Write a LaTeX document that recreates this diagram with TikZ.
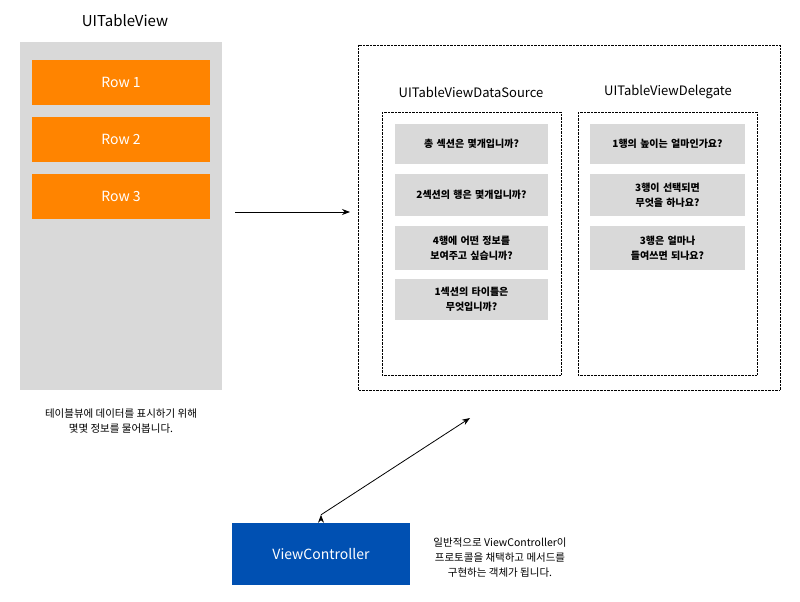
\documentclass[tikz,border=0pt]{standalone}
\usepackage{fontspec}
\setmainfont{Noto Sans CJK KR}
\usetikzlibrary{arrows.meta}
\begin{document}
\begin{tikzpicture}[x=1pt,y=-1pt,
  rowbox/.style={fill=orange!85!yellow!90!red,draw=none,minimum width=178pt,minimum height=45pt,text=white,font=\fontsize{14}{16}\selectfont},
  item/.style={fill=gray!30,draw=none,text width=150pt,align=center,font=\fontsize{10}{15}\selectfont\bfseries,inner sep=0pt},
  dotbox/.style={draw=black,densely dotted,thin},
  arr/.style={-{Stealth[length=8pt,width=6pt]},thick},
  lbl/.style={font=\fontsize{10.5}{15}\selectfont,align=center}]
\useasboundingbox (0,0) rectangle (800,602);
\fill[white] (0,0) rectangle (800,602);
\node[font=\fontsize{15}{18}\selectfont] (tvt) at (125,21) {UITableView};
\fill[gray!30] (20,42) rectangle (222,390);
\node[rowbox] (r1) at (121,82.5) {Row 1};
\node[rowbox] (r2) at (121,139.5) {Row 2};
\node[rowbox] (r3) at (121,196) {Row 3};
\node[lbl] (tvl) at (121,421) {테이블뷰에 데이터를 표시하기 위해\\몇몇 정보를 물어봅니다.};
\draw[dotbox] (358,45) rectangle (780,390);
\coordinate (a1) at (235,212);
\coordinate (a2) at (350,212);
\draw[arr] (a1) -- (a2);
\node[font=\fontsize{13}{16}\selectfont] (dst) at (471,92) {UITableViewDataSource};
\node[font=\fontsize{13}{16}\selectfont] (dlt) at (668,92) {UITableViewDelegate};
\draw[dotbox] (382,112) rectangle (561,375);
\draw[dotbox] (578,112) rectangle (757,375);
\node[item,minimum height=40pt,text width=153pt] (d1) at (471.5,144) {총 섹션은 몇개입니까?};
\node[item,minimum height=42pt,text width=153pt] (d2) at (471.5,195) {2섹션의 행은 몇개입니까?};
\node[item,minimum height=44pt,text width=153pt] (d3) at (471.5,248) {4행에 어떤 정보를\\보여주고 싶습니까?};
\node[item,minimum height=41pt,text width=153pt] (d4) at (471.5,299.5) {1섹션의 타이틀은\\무엇입니까?};
\node[item,minimum height=40pt,text width=155pt] (g1) at (667.5,144) {1행의 높이는 얼마인가요?};
\node[item,minimum height=42pt,text width=155pt] (g2) at (667.5,195) {3행이 선택되면\\무엇을 하나요?};
\node[item,minimum height=44pt,text width=155pt] (g3) at (667.5,248) {3행은 얼마나\\들여쓰면 되나요?};
\node[fill=blue!55!cyan!70!black,minimum width=178pt,minimum height=62pt,text=white,font=\fontsize{14}{16}\selectfont] (vc) at (321,554) {ViewController};
\coordinate (b2) at (470,418);
\draw[arr] (vc.north) ++(0,-8) coordinate (b1);
\draw[arr] (b1) -- (b2);
\node[lbl] (vcl) at (500,558) {일반적으로 ViewController이\\프로토콜을 채택하고 메서드를\\구현하는 객체가 됩니다.};
\end{tikzpicture}
\end{document}
